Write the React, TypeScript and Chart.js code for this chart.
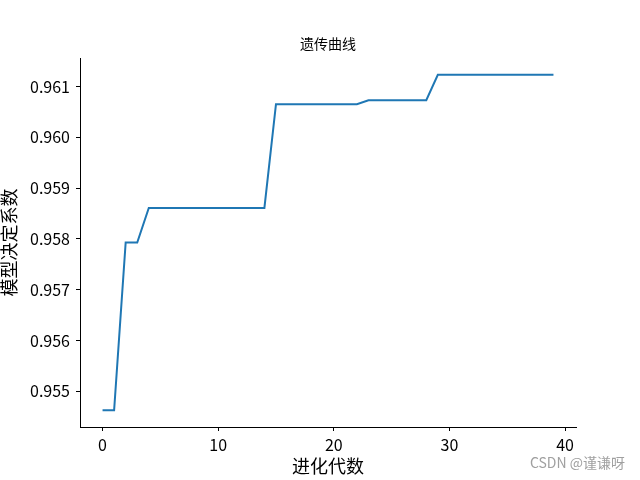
import { useEffect, useRef } from "react"
import Chart from "chart.js/auto"

// generation index and best fitness per generation
const generations: number[] = Array.from({ length: 40 }, (_, i) => i)
const fitness: number[] = [
  0.95463, 0.95463, 0.95793, 0.95793, 0.95861, 0.95861, 0.95861, 0.95861,
  0.95861, 0.95861, 0.95861, 0.95861, 0.95861, 0.95861, 0.95861, 0.96065,
  0.96065, 0.96065, 0.96065, 0.96065, 0.96065, 0.96065, 0.96065, 0.96073,
  0.96073, 0.96073, 0.96073, 0.96073, 0.96073, 0.96123, 0.96123, 0.96123,
  0.96123, 0.96123, 0.96123, 0.96123, 0.96123, 0.96123, 0.96123, 0.96123,
]
const xTicks = [0, 10, 20, 30, 40]
const yTicks = [0.955, 0.956, 0.957, 0.958, 0.959, 0.96, 0.961]

const TITLE = "遗传曲线"
const X_LABEL = "进化代数"
const Y_LABEL = "模型决定系数"
const WATERMARK = "CSDN @谨谦呀"

const FONT = '"Noto Sans CJK SC", "DejaVu Sans", sans-serif'

export default function App() {
  const canvasRef = useRef<HTMLCanvasElement | null>(null)

  useEffect(() => {
    if (!canvasRef.current) return

    const labelsPlugin = {
      id: "labels",
      afterDraw(chart: any) {
        const ctx = chart.ctx
        const area = chart.chartArea
        ctx.save()
        ctx.fillStyle = "#000"
        ctx.textAlign = "center"
        ctx.textBaseline = "middle"
        ctx.font = `14px ${FONT}`
        ctx.fillText(TITLE, (area.left + area.right) / 2, 44)
        ctx.font = `18px ${FONT}`
        ctx.fillText(X_LABEL, (area.left + area.right) / 2, 466)
        ctx.save()
        ctx.translate(9, (area.top + area.bottom) / 2)
        ctx.rotate(-Math.PI / 2)
        ctx.fillText(Y_LABEL, 0, 0)
        ctx.restore()
        ctx.fillStyle = "#a0a0a0"
        ctx.font = `14px ${FONT}`
        ctx.textAlign = "right"
        ctx.fillText(WATERMARK, 625, 463)
        ctx.restore()
      },
    }

    const chart = new Chart(canvasRef.current, {
      type: "line",
      data: {
        datasets: [
          {
            data: generations.map((g, i) => ({ x: g, y: fitness[i] })),
            borderColor: "#1f77b4",
            borderWidth: 2,
            pointRadius: 0,
            tension: 0,
          },
        ],
      },
      options: {
        animation: false,
        responsive: false,
        layout: { padding: { left: 0, top: 58, right: 64, bottom: 0 } },
        plugins: {
          legend: { display: false },
          tooltip: { enabled: false },
        },
        scales: {
          x: {
            type: "linear",
            min: -1.95,
            max: 40.95,
            afterBuildTicks: (s: any) => {
              s.ticks = xTicks.map((v) => ({ value: v }))
            },
            afterFit: (s: any) => {
              s.height = 53
            },
            grid: { drawOnChartArea: false, tickLength: 4, color: "#000" },
            border: { display: true, color: "#000", width: 1 },
            ticks: {
              color: "#000",
              padding: 4,
              maxRotation: 0,
              font: { size: 16, family: FONT },
            },
          },
          y: {
            type: "linear",
            min: 0.9543,
            max: 0.96156,
            afterBuildTicks: (s: any) => {
              s.ticks = yTicks.map((v) => ({ value: v }))
            },
            afterFit: (s: any) => {
              s.width = 80
            },
            grid: { drawOnChartArea: false, tickLength: 4, color: "#000" },
            border: { display: true, color: "#000", width: 1 },
            ticks: {
              color: "#000",
              padding: 6,
              font: { size: 16, family: FONT },
              callback: (v: any) => Number(v).toFixed(3),
            },
          },
        },
      },
      plugins: [labelsPlugin],
    } as any)

    return () => chart.destroy()
  }, [])

  return (
    <div style={{ position: "fixed", left: 0, top: 0, width: 640, height: 480, background: "#fff" }}>
      <canvas ref={canvasRef} width={640} height={480} style={{ width: 640, height: 480 }} />
    </div>
  )
}
